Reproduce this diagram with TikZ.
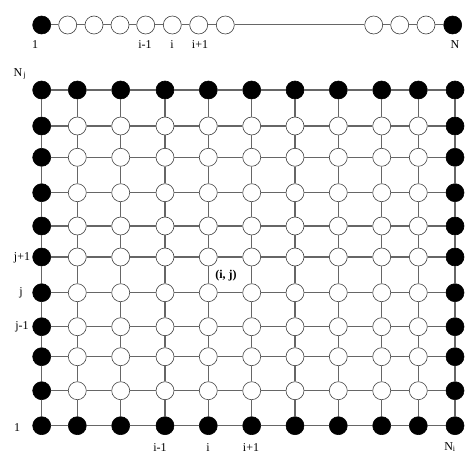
\documentclass[tikz,border=0pt]{standalone}
\usepackage{fontspec}
\setmainfont{Liberation Serif}
\begin{document}
\begin{tikzpicture}[x=1pt,y=-1pt,
  bnode/.style={circle,draw=black,fill=black,minimum size=18pt,inner sep=0pt,line width=0.6pt},
  wnode/.style={circle,draw=black!75,fill=white,minimum size=18pt,inner sep=0pt,line width=0.6pt},
  link/.style={draw=black!60,line width=1.3pt},
  lbl/.style={font=\fontsize{12}{13}\selectfont,inner sep=0pt}]
\useasboundingbox (0,0) rectangle (474,468);
% ---- top 1-D row ----
\node[bnode] (t1) at (41.7,25) {};
\foreach \k/\x in {2/67.7,3/94,4/120,5/145.7,6/172.3,7/198.7,8/225.3,9/373.7,10/399.7,11/426}
  \node[wnode] (t\k) at (\x,25) {};
\node[bnode] (t12) at (452.7,25) {};
\foreach \a/\b in {1/2,2/3,3/4,4/5,5/6,6/7,7/8,8/9,9/10,10/11,11/12}
  \draw[link,line width=1pt] (t\a) -- (t\b);
\node[lbl] (l1) at (35,45) {1};
\node[lbl] (lim) at (145,45) {i-1};
\node[lbl] (li) at (172,45) {i};
\node[lbl] (lip) at (200,45) {i+1};
\node[lbl] (lN) at (455,45) {N};
% ---- 2-D grid ----
\foreach \x [count=\c from 0] in {41.7,77.3,120.7,165,208.3,251.7,295,338.3,381.7,418.3,455}{
  \foreach \y [count=\r from 0] in {90,126,157.3,192.7,226,257,292.7,326.7,356.7,390.7,425.7}{
    \pgfmathtruncatemacro{\edge}{(\c==0)||(\c==10)||(\r==0)||(\r==10)}
    \ifnum\edge=1
      \node[bnode] (n-\c-\r) at (\x,\y) {};
    \else
      \node[wnode] (n-\c-\r) at (\x,\y) {};
    \fi
  }
}
\foreach \c in {0,...,10}{
  \foreach \r [evaluate=\r as \rn using int(\r+1)] in {0,...,9}{
    \draw[link] (n-\c-\r) -- (n-\c-\rn);
    \draw[link] (n-\r-\c) -- (n-\rn-\c);
  }
}
% ---- labels ----
\node[lbl] (nj) at (20,74) {N\textsubscript{\,j}};
\node[lbl] (jp) at (22,258) {j+1};
\node[lbl] (jj) at (21,293) {j};
\node[lbl] (jm) at (22,327) {j-1};
\node[lbl] (j1) at (17,428) {1};
\node[lbl] (bim) at (160,448) {i-1};
\node[lbl] (bi) at (208,448) {i};
\node[lbl] (bip) at (251,448) {i+1};
\node[lbl] (bN) at (450,447) {N\textsubscript{i}};
\node[lbl] (ij) at (226,276) {\textbf{(i, j)}};
\end{tikzpicture}
\end{document}
